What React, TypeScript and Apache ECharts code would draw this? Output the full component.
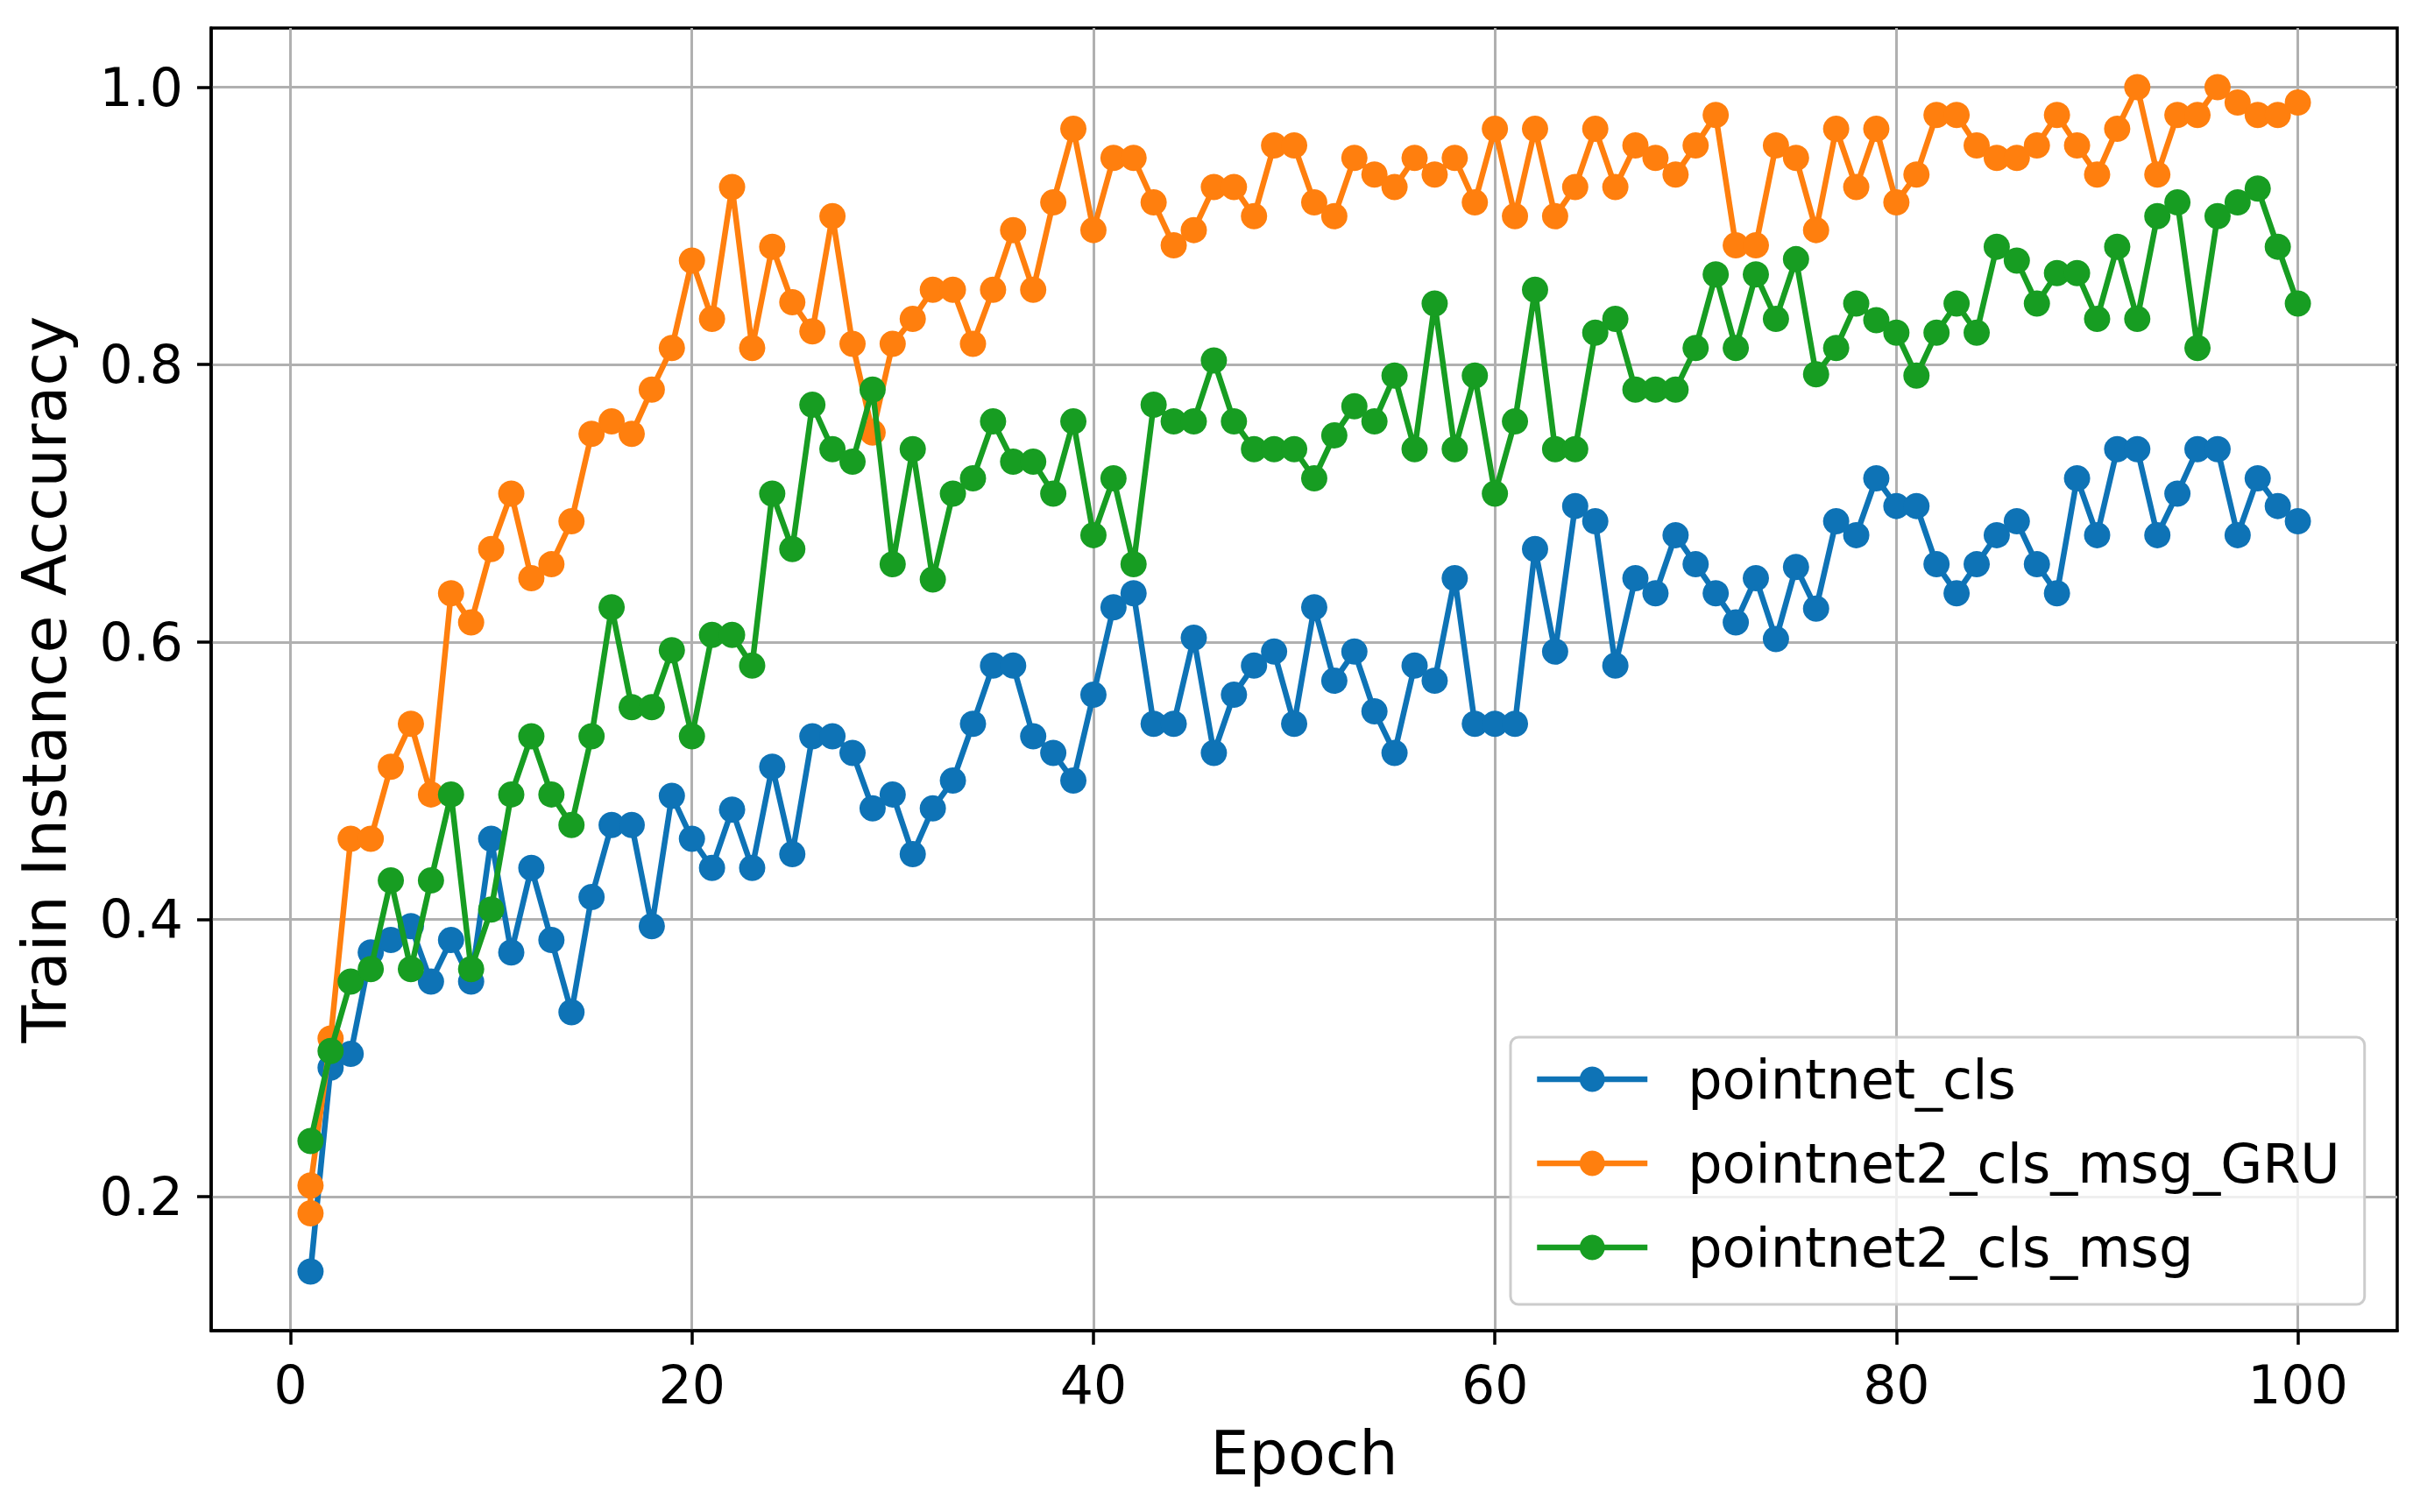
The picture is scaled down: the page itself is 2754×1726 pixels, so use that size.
import React, { useEffect, useRef } from "react";
import * as echarts from "echarts";

const xTicks = [0, 20, 40, 60, 80, 100];
const yTicks = [0.2, 0.4, 0.6, 0.8, 1.0];

const seriesNames = ["pointnet_cls", "pointnet2_cls_msg_GRU", "pointnet2_cls_msg"];
const seriesColors = ["#0e73b6", "#ff7f0e", "#179d22"];

// epochs 1..100
const pointnetCls = [
  0.146, 0.293, 0.303, 0.376, 0.385, 0.395, 0.355, 0.385, 0.355, 0.458,
  0.376, 0.437, 0.385, 0.333, 0.416, 0.468, 0.468, 0.395, 0.489, 0.458,
  0.437, 0.479, 0.437, 0.51, 0.447, 0.532, 0.532, 0.52, 0.48, 0.49,
  0.447, 0.48, 0.5, 0.541, 0.583, 0.583, 0.532, 0.52, 0.5, 0.562,
  0.625, 0.635, 0.541, 0.541, 0.603, 0.52, 0.562, 0.583, 0.593, 0.541,
  0.625, 0.572, 0.593, 0.55, 0.52, 0.583, 0.572, 0.646, 0.541, 0.541,
  0.541, 0.667, 0.593, 0.698, 0.687, 0.583, 0.646, 0.635, 0.677, 0.656,
  0.635, 0.614, 0.646, 0.602, 0.654, 0.624, 0.687, 0.677, 0.718, 0.698,
  0.698, 0.656, 0.635, 0.656, 0.677, 0.687, 0.656, 0.635, 0.718, 0.677,
  0.739, 0.739, 0.677, 0.707, 0.739, 0.739, 0.677, 0.718, 0.698, 0.687,
];

// epoch 1 appears twice in this series (two markers at epoch 1)
const gruEpochOneExtra = 0.188;
const pointnet2ClsMsgGru = [
  0.208, 0.314, 0.458, 0.458, 0.51, 0.541, 0.49, 0.635, 0.614, 0.667,
  0.707, 0.646, 0.656, 0.687, 0.75, 0.759, 0.75, 0.782, 0.812, 0.875,
  0.833, 0.928, 0.812, 0.885, 0.845, 0.824, 0.907, 0.815, 0.751, 0.815,
  0.833, 0.854, 0.854, 0.815, 0.854, 0.897, 0.854, 0.917, 0.97, 0.897,
  0.949, 0.949, 0.917, 0.886, 0.897, 0.928, 0.928, 0.907, 0.958, 0.958,
  0.917, 0.907, 0.949, 0.937, 0.928, 0.949, 0.937, 0.949, 0.917, 0.97,
  0.907, 0.97, 0.907, 0.928, 0.97, 0.928, 0.958, 0.949, 0.937, 0.958,
  0.98, 0.886, 0.886, 0.958, 0.949, 0.897, 0.97, 0.928, 0.97, 0.917,
  0.937, 0.98, 0.98, 0.958, 0.949, 0.949, 0.958, 0.98, 0.958, 0.937,
  0.97, 1.0, 0.937, 0.98, 0.98, 1.0, 0.989, 0.98, 0.98, 0.989,
];

const pointnet2ClsMsg = [
  0.24, 0.305, 0.355, 0.364, 0.428, 0.364, 0.428, 0.49, 0.364, 0.407,
  0.49, 0.532, 0.49, 0.468, 0.532, 0.625, 0.553, 0.553, 0.594, 0.532,
  0.605, 0.605, 0.583, 0.707, 0.667, 0.771, 0.739, 0.73, 0.782, 0.656,
  0.739, 0.645, 0.707, 0.718, 0.759, 0.73, 0.73, 0.707, 0.759, 0.677,
  0.718, 0.656, 0.771, 0.759, 0.759, 0.803, 0.759, 0.739, 0.739, 0.739,
  0.718, 0.749, 0.77, 0.759, 0.792, 0.739, 0.844, 0.739, 0.792, 0.707,
  0.759, 0.854, 0.739, 0.739, 0.823, 0.833, 0.782, 0.782, 0.782, 0.812,
  0.865, 0.812, 0.865, 0.833, 0.876, 0.793, 0.812, 0.844, 0.832, 0.823,
  0.792, 0.823, 0.844, 0.823, 0.885, 0.875, 0.844, 0.866, 0.866, 0.833,
  0.885, 0.833, 0.907, 0.917, 0.812, 0.907, 0.917, 0.927, 0.885, 0.844,
];

const toPairs = (vals: number[]) => vals.map((v, i) => [i + 1, v]);

const FONT = "DejaVu Sans";

export default function App() {
  const ref = useRef<HTMLDivElement>(null);
  useEffect(() => {
    if (!ref.current) return;
    const chart = echarts.init(ref.current, undefined, { renderer: "svg" });
    const gruData = [[1, gruEpochOneExtra], ...toPairs(pointnet2ClsMsgGru)];
    const allData = [toPairs(pointnetCls), gruData, toPairs(pointnet2ClsMsg)];
    const option: any = {
      animation: false,
      backgroundColor: "#ffffff",
      textStyle: { fontFamily: FONT },
      grid: {
        left: 231,
        right: 10,
        top: 24,
        bottom: 199,
        show: true,
        borderColor: "#000",
        borderWidth: 3.5,
        backgroundColor: "transparent",
      },
      legend: {
        orient: "vertical",
        left: 1716,
        top: 1176,
        padding: [17, 28, 34, 27],
        itemGap: 34,
        itemWidth: 126,
        itemHeight: 36,
        backgroundColor: "rgba(255,255,255,0.8)",
        borderColor: "#cccccc",
        borderWidth: 3,
        borderRadius: 9,
        lineStyle: { width: 6.5 },
        textStyle: {
          fontFamily: FONT,
          fontSize: 62,
          color: "#000",
          padding: [0, 0, 0, 41],
        },
        data: seriesNames,
      },
      xAxis: {
        type: "value",
        min: -3.95,
        max: 104.95,
        name: "Epoch",
        nameLocation: "middle",
        nameGap: 105,
        nameTextStyle: { fontFamily: FONT, fontSize: 70, color: "#000" },
        axisLine: { show: true, onZero: false, lineStyle: { color: "#000", width: 3.5 } },
        axisTick: {
          show: true,
          inside: false,
          length: 16,
          customValues: xTicks,
          lineStyle: { color: "#000", width: 3.5 },
        },
        axisLabel: {
          customValues: xTicks,
          fontFamily: FONT,
          fontSize: 60,
          color: "#000",
          margin: 32,
          formatter: (v: number) => String(v),
        },
        splitLine: { show: true, lineStyle: { color: "#b0b0b0", width: 3 } },
      },
      yAxis: {
        type: "value",
        min: 0.1033,
        max: 1.0427,
        name: "Train Instance Accuracy",
        nameLocation: "middle",
        nameGap: 155,
        nameTextStyle: { fontFamily: FONT, fontSize: 70, color: "#000" },
        axisLine: { show: true, onZero: false, lineStyle: { color: "#000", width: 3.5 } },
        axisTick: {
          show: true,
          inside: false,
          length: 16,
          customValues: yTicks,
          lineStyle: { color: "#000", width: 3.5 },
        },
        axisLabel: {
          customValues: yTicks,
          fontFamily: FONT,
          fontSize: 60,
          color: "#000",
          margin: 32,
          formatter: (v: number) => v.toFixed(1),
        },
        splitLine: { show: true, lineStyle: { color: "#b0b0b0", width: 3 } },
      },
      series: seriesNames.map((name, k) => ({
        name,
        type: "line",
        data: allData[k],
        symbol: "circle",
        symbolSize: 30,
        showSymbol: true,
        color: seriesColors[k],
        itemStyle: { color: seriesColors[k] },
        lineStyle: { color: seriesColors[k], width: 6.5, join: "round" },
        emphasis: { disabled: true },
        z: 2 + k,
      })),
    };
    chart.setOption(option);
    return () => chart.dispose();
  }, []);
  return <div ref={ref} style={{ width: 2738, height: 1710 }} />;
}
